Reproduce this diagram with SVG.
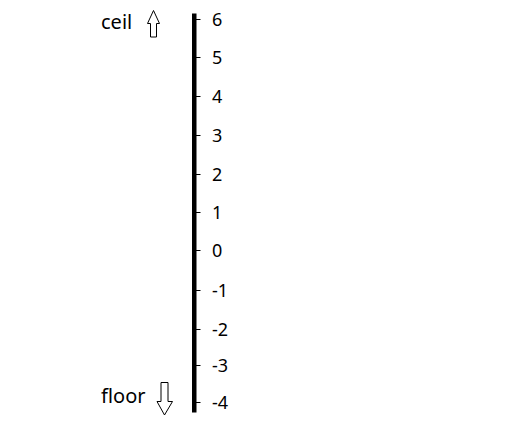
<svg xmlns="http://www.w3.org/2000/svg" width="526" height="434" viewBox="0 0 526 434">
<style>
.num{font-family:"Noto Sans","Liberation Sans",sans-serif;font-size:18px;fill:#000}
.lbl{font-family:"Noto Sans","Liberation Sans",sans-serif;font-size:20px;fill:#000}
.tick{stroke:#000;stroke-width:1}
.arrow{fill:#fff;stroke:#000;stroke-width:1}
</style>
<rect width="526" height="434" fill="#fff"/>
<g id="axis">
<rect x="192" y="13.5" width="4.5" height="399" fill="#000"/>
<g class="tick">
<line x1="196" y1="19.5" x2="200.5" y2="19.5"/>
<line x1="196" y1="57.5" x2="200.5" y2="57.5"/>
<line x1="196" y1="96.5" x2="200.5" y2="96.5"/>
<line x1="196" y1="135.5" x2="200.5" y2="135.5"/>
<line x1="196" y1="174.5" x2="200.5" y2="174.5"/>
<line x1="196" y1="212.5" x2="200.5" y2="212.5"/>
<line x1="196" y1="250.5" x2="200.5" y2="250.5"/>
<line x1="196" y1="290.5" x2="200.5" y2="290.5"/>
<line x1="196" y1="329.5" x2="200.5" y2="329.5"/>
<line x1="196" y1="365.5" x2="200.5" y2="365.5"/>
<line x1="196" y1="402.5" x2="200.5" y2="402.5"/>
</g>
<g class="num">
<text x="212" y="26">6</text>
<text x="212" y="64">5</text>
<text x="212" y="103">4</text>
<text x="212" y="142">3</text>
<text x="212" y="181">2</text>
<text x="212" y="219">1</text>
<text x="212" y="257">0</text>
<text x="212" y="297">-1</text>
<text x="212" y="336">-2</text>
<text x="212" y="372">-3</text>
<text x="212" y="409">-4</text>
</g>
</g>
<g id="ceil">
<text class="lbl" x="101" y="29">ceil</text>
<path class="arrow" d="M153.5,10.5 L159.5,23.5 L156.5,23.5 L156.5,37 L150.5,37 L150.5,23.5 L147.5,23.5 Z"/>
</g>
<g id="floor">
<text class="lbl" x="101" y="403">floor</text>
<path class="arrow" d="M161,382.5 L168,382.5 L168,401.5 L172.5,401.5 L164.5,415 L157,401.5 L161,401.5 Z"/>
</g>
</svg>
